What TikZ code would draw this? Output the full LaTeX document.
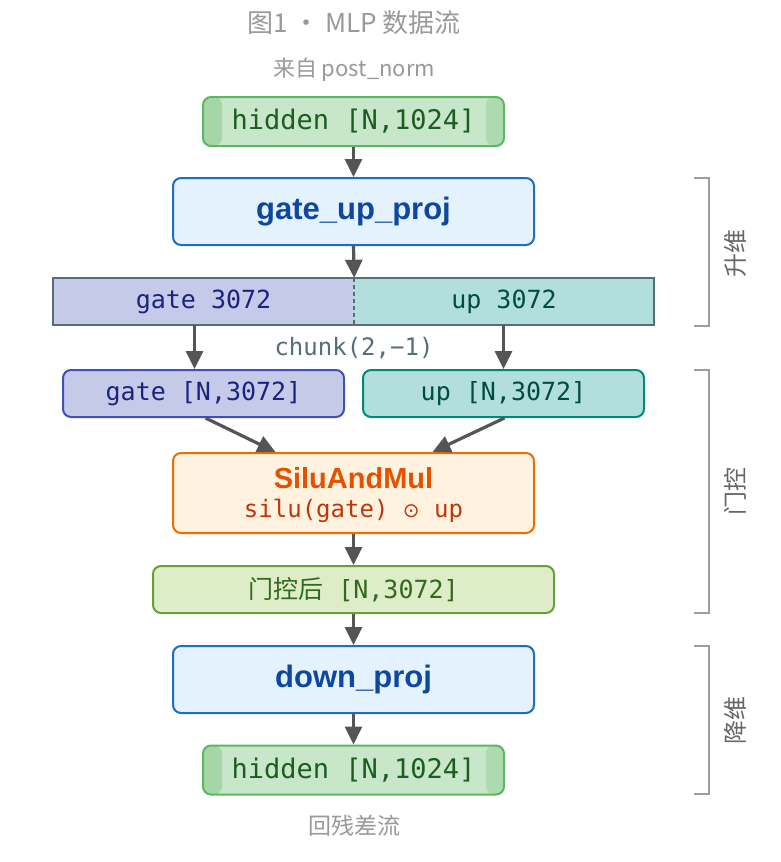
\documentclass[tikz,border=0pt]{standalone}
\usepackage{fontspec}
\setmainfont{Liberation Sans}
\newfontfamily\cjk{Noto Sans CJK SC}
\newfontfamily\monof{DejaVu Sans Mono}
\newfontfamily\symf{DejaVu Sans}
\usetikzlibrary{arrows.meta,calc}
\definecolor{hidF}{HTML}{C8E6C9}
\definecolor{hidB}{HTML}{5CB860}
\definecolor{hidS}{HTML}{A5D6A7}
\definecolor{hidT}{HTML}{1B5E20}
\definecolor{bluF}{HTML}{E3F2FD}
\definecolor{bluB}{HTML}{1E6CC4}
\definecolor{bluT}{HTML}{0D47A1}
\definecolor{gatF}{HTML}{C5CAE9}
\definecolor{gatB}{HTML}{3F51B5}
\definecolor{gatT}{HTML}{1A237E}
\definecolor{upF}{HTML}{B2DFDB}
\definecolor{upB}{HTML}{00897B}
\definecolor{upT}{HTML}{004D40}
\definecolor{splB}{HTML}{546E7A}
\definecolor{oraF}{HTML}{FFF3E0}
\definecolor{oraB}{HTML}{EF6C00}
\definecolor{oraT}{HTML}{E65100}
\definecolor{oraS}{HTML}{BF360C}
\definecolor{grnF}{HTML}{DCEDC8}
\definecolor{grnB}{HTML}{689F38}
\definecolor{grnT}{HTML}{33691E}
\definecolor{arrC}{HTML}{555555}
\definecolor{capC}{HTML}{999999}
\definecolor{brkC}{HTML}{9E9E9E}
\definecolor{brkT}{HTML}{666666}
\begin{document}
\begin{tikzpicture}[x=1pt,y=-1pt,
  box/.style={rounded corners=8pt, line width=2pt, draw, inner sep=0pt, align=center},
  hidbox/.style={box, draw=hidB, fill=hidF, minimum width=301pt, minimum height=49pt,
    text=hidT, font=\monof\fontsize{27}{30}\selectfont,
    path picture={
      \fill[hidS] (path picture bounding box.north west) rectangle ($(path picture bounding box.south west)+(19,0)$);
      \fill[hidS, opacity=.75] (path picture bounding box.north east) rectangle ($(path picture bounding box.south east)+(-18,0)$);
    }},
  projbox/.style={box, draw=bluB, fill=bluF, minimum width=361pt, minimum height=67pt,
    text=bluT, font=\bfseries\fontsize{31}{34}\selectfont},
  tensbox/.style={box, minimum width=281pt, minimum height=47pt, font=\monof\fontsize{25}{30}\selectfont},
  splitbox/.style={inner sep=0pt, minimum height=47pt, font=\monof\fontsize{25}{30}\selectfont},
  arr/.style={draw=arrC, line width=3.2pt, -{Triangle[length=18pt,width=17pt]}},
  caption/.style={text=capC, font=\cjk\fontsize{22}{26}\selectfont},
  brk/.style={draw=brkC, line width=2.5pt},
  brklab/.style={text=brkT, font=\cjk\fontsize{24}{28}\selectfont, rotate=90}
]
\useasboundingbox[fill=white] (0,0) rectangle (780,862);

% titles
\node[text=capC, font=\cjk\fontsize{26}{30}\selectfont] (title) at (354,23) {图1 · MLP 数据流};
\node[caption] (from) at (354,70) {来自 post\_norm};

% nodes
\node[hidbox] (h1) at (353.5,121.5) {hidden [N,1024]};
\node[projbox] (gu) at (353.5,211.5) {gate\_up\_proj};

\node[splitbox, fill=gatF, minimum width=301pt, text=gatT] (sL) at (203.5,301.5) {gate 3072};
\node[splitbox, fill=upF, minimum width=300pt, text=upT] (sR) at (504,301.5) {up 3072};
\draw[draw=splB, line width=2pt] (sL.north west) rectangle (sR.south east);
\draw[draw=splB, line width=1.5pt, dash pattern=on 4pt off 3pt] (sL.north east) -- (sL.south east);

\node[text=splB, font=\monof\fontsize{24}{28}\selectfont] (chunk) at (354,348) {chunk(2,−1)};

\node[tensbox, draw=gatB, fill=gatF, text=gatT] (gate) at (203.5,393.5) {gate [N,3072]};
\node[tensbox, draw=upB, fill=upF, text=upT] (up) at (503.5,393.5) {up [N,3072]};

\node[box, draw=oraB, fill=oraF, minimum width=361pt, minimum height=80pt] (silu) at (353.5,493) {};
\node[text=oraT, font=\bfseries\fontsize{29}{32}\selectfont] (siluT) at (353.5,478) {SiluAndMul};
\node[text=oraS, font=\monof\fontsize{24}{28}\selectfont] (siluS) at (353.5,511) {silu(gate) {\symf\fontsize{20}{24}\selectfont ⊙} up};

\node[box, draw=grnB, fill=grnF, minimum width=401pt, minimum height=47pt, text=grnT,
  font=\monof\fontsize{25}{30}\selectfont] (gated) at (353.5,589.5) {{\cjk 门控后} [N,3072]};

\node[projbox] (down) at (353.5,679.5) {down\_proj};
\node[hidbox] (h2) at (353.5,770) {hidden [N,1024]};

\node[caption, font=\cjk\fontsize{23}{26}\selectfont] (back) at (354,826) {回残差流};

% arrows
\draw[arr] (h1.south) -- (gu.north);
\draw[arr] (gu.south) -- (sL.north east);
\draw[arr] ($(sL.south)+(-9,0)$) -- ($(gate.north)+(-9,0)$);
\draw[arr] (up.north |- sR.south) -- (up.north);
\draw[arr] ($(gate.south)+(2,0)$) -- ($(silu.north)+(-78,0)$);
\draw[arr] ($(up.south)+(1,0)$) -- ($(silu.north)+(79,0)$);
\draw[arr] (silu.south) -- (gated.north);
\draw[arr] (gated.south) -- (down.north);
\draw[arr] (down.south) -- (h2.north);

% brackets
\coordinate (b1t) at (709,178);
\coordinate (b1b) at (709,326);
\coordinate (b2t) at (709,370);
\coordinate (b2b) at (709,613);
\coordinate (b3t) at (709,646);
\coordinate (b3b) at (709,794);
\draw[brk] ($(b1t)+(-15,0)$) -- (b1t) -- (b1b) -- ($(b1b)+(-15,0)$);
\draw[brk] ($(b2t)+(-15,0)$) -- (b2t) -- (b2b) -- ($(b2b)+(-15,0)$);
\draw[brk] ($(b3t)+(-15,0)$) -- (b3t) -- (b3b) -- ($(b3b)+(-15,0)$);
\node[brklab] (l1) at (735,253) {升维};
\node[brklab] (l2) at (735,491) {门控};
\node[brklab] (l3) at (735,720) {降维};
\end{tikzpicture}
\end{document}
